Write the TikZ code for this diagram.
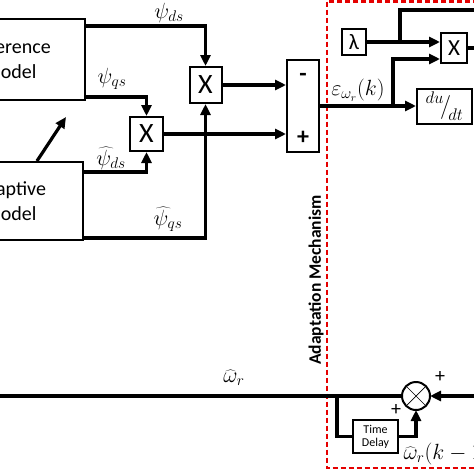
\documentclass[tikz,border=0pt]{standalone}
\usepackage{fix-cm}
\usepackage{fontspec}
\setmainfont{Carlito}
\usetikzlibrary{arrows.meta}

\begin{document}
\begin{tikzpicture}[x=1pt, y=-1pt,
    blocco/.style={draw, line width=2pt, inner sep=0pt, align=center},
    filo/.style={line width=3.2pt},
    freccia/.style={filo, -{Triangle[length=11pt,width=10pt]}},
    etich/.style={font=\fontsize{22}{24}\selectfont}]
    \clip (0,0) rectangle (474,474);
    % modelli
    \node[blocco, minimum width=150pt, minimum height=81pt, font=\fontsize{20}{25}\selectfont] (ref) at (10,59.5) {Reference\\Model};
    \node[blocco, minimum width=146pt, minimum height=78pt, font=\fontsize{20}{25}\selectfont] (ada) at (10,201) {Adaptive\\Model};
    % moltiplicatori e somma
    \node[blocco, minimum width=32pt, minimum height=36pt, font=\fontsize{28}{30}\selectfont] (x1) at (205.5,85) {X};
    \node[blocco, minimum width=33pt, minimum height=34pt, font=\fontsize{28}{30}\selectfont] (x2) at (146.5,134) {X};
    \node[blocco, minimum width=32pt, minimum height=92pt] (sum) at (303,106) {};
    \node[font=\fontsize{24}{24}\selectfont\bfseries] (meno) at (303,77) {-};
    \node[font=\fontsize{24}{24}\selectfont\bfseries] (piu) at (303,138) {+};
    % meccanismo di adattamento
    \node[blocco, minimum width=24pt, minimum height=26pt, font=\fontsize{22}{22}\selectfont] (lam) at (354,42) {λ};
    \node[blocco, minimum width=26pt, minimum height=30pt, font=\fontsize{23}{23}\selectfont] (x3) at (454,48) {X};
    \node[blocco, minimum width=55pt, minimum height=35pt, font=\fontsize{24}{24}\selectfont] (du) at (444.5,106) {$\displaystyle {}^{du}\!\Big/_{\!dt}$};
    \node[blocco, minimum width=45pt, minimum height=33pt, font=\fontsize{12}{13}\selectfont] (td) at (375.5,436.5) {Time\\Delay};
    \node[draw, circle, line width=2pt, minimum size=28pt, inner sep=0pt, outer sep=0pt] (circ) at (416,396) {};
    \draw[line width=0.7pt] (circ.north east) -- (circ.south west) (circ.north west) -- (circ.south east);
    \draw[red!90!black, line width=2.4pt, dash pattern=on 5pt off 3pt] (327,1.5) rectangle (500,468);
    \node[rotate=90, font=\fontsize{17.5}{17.5}\selectfont\bfseries] (mecc) at (316,280) {Adaptation Mechanism};

    % collegamenti
    \draw[freccia] ([yshift=-8pt]ref.north east) -| (x1.north);
    \draw[freccia] ([yshift=4pt]ref.south east) -| (x2.north);
    \draw[freccia] ([yshift=-11pt]ada.north east) -| (x2.south);
    \draw[freccia] ([yshift=3pt]ada.south east) -| (x1.south);
    \coordinate (punta) at (66,117);
    \draw[freccia] ([xshift=27pt]ada.north) -- (punta);
    \draw[freccia] (x1.east) -- (x1.east -| sum.west);
    \draw[freccia] (x2.east) -- (x2.east -| sum.west);
    \draw[freccia] (sum.east) -- (sum.east -| du.west);
    \coordinate (j1) at (393,106);
    \draw[freccia] (j1) |- ([yshift=-11pt]x3.west);
    \draw[freccia] (lam.east) -- (lam.east -| x3.west);
    \coordinate (j2) at (400,42);
    \coordinate (alto) at (480,10);
    \draw[filo] (j2) |- (alto);
    \coordinate (uscita) at (480,48);
    \draw[filo] (x3.east) -- (uscita);
    % retroazione
    \coordinate (w0) at (-5,396);
    \coordinate (w1) at (480,396);
    \coordinate (j3) at (337,396);
    \draw[filo] (w0) -- (circ.west);
    \draw[freccia] (w1) -- (circ.east);
    \draw[filo] (j3) |- (td.west);
    \draw[freccia] (td.east) -| (circ.south);

    % etichette
    \node[etich] (lpsids) at (169,13) {$\psi_{ds}$};
    \node[etich] (lpsiqs) at (112,79) {$\psi_{qs}$};
    \node[etich] (lhpsids) at (111,158) {$\widehat{\psi}_{ds}$};
    \node[etich] (lhpsiqs) at (168,219) {$\widehat{\psi}_{qs}$};
    \node[etich] (leps) at (358,90) {$\varepsilon_{\omega_r}(k)$};
    \node[etich] (lomega) at (234,378) {$\widehat{\omega}_r$};
    \node[etich, anchor=west] (lomegak) at (400,454) {$\widehat{\omega}_r(k-1)$};
    \node[font=\fontsize{20}{20}\selectfont] (p1) at (440,377) {+};
    \node[font=\fontsize{20}{20}\selectfont] (p2) at (396,410) {+};
\end{tikzpicture}
\end{document}
